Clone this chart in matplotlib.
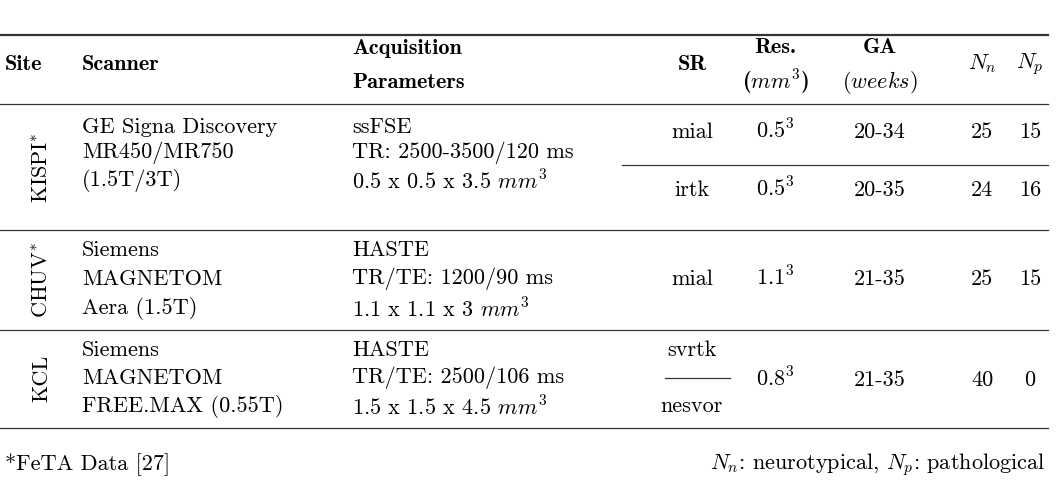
import matplotlib
matplotlib.use("Agg")
import matplotlib.pyplot as plt

plt.rcParams['mathtext.fontset'] = 'cm'
plt.rcParams['font.family'] = ['cmr10', 'DejaVu Serif']

sites = ["KISPI$^{*}$", "CHUV$^{*}$", "KCL"]
scanners = [["GE Signa Discovery", "MR450/MR750", "(1.5T/3T)"],
            ["Siemens", "MAGNETOM", "Aera (1.5T)"],
            ["Siemens", "MAGNETOM", "FREE.MAX (0.55T)"]]
acq = [["ssFSE", "TR: 2500-3500/120 ms", "0.5 x 0.5 x 3.5 $mm^3$"],
       ["HASTE", "TR/TE: 1200/90 ms", "1.1 x 1.1 x 3 $mm^3$"],
       ["HASTE", "TR/TE: 2500/106 ms", "1.5 x 1.5 x 4.5 $mm^3$"]]
sr = ["mial", "irtk", "mial", "svrtk", "nesvor"]
res = ["$0.5^3$", "$0.5^3$", "$1.1^3$", "$0.8^3$"]
ga = ["20-34", "20-35", "21-35", "21-35"]
nn = ["25", "24", "25", "40"]
npath = ["15", "16", "15", "0"]

fig = plt.figure(figsize=(10.62, 4.91), dpi=100)
ax = fig.add_axes([0, 0, 1, 1])
ax.set_xlim(0, 1062); ax.set_ylim(491, 0); ax.axis('off')
fs = 16
def t(x, y, s, ha='left', bold=False, **kw):
    if bold:
        kw['family'] = ['cmb10', 'DejaVu Serif']
    ax.text(x, y, s, ha=ha, va='center', fontsize=fs, **kw)

# rules
ax.plot([0, 1048], [35, 35], color='#333', lw=1.6)
for y in [104, 230, 330, 428]:
    ax.plot([0, 1048], [y, y], color='#333', lw=0.9)
ax.plot([622, 1048], [165, 165], color='#333', lw=0.9)
ax.plot([665, 730], [378, 378], color='#333', lw=0.9)

# header
t(5, 64, "Site", bold=True); t(82, 64, "Scanner", bold=True)
t(352, 48, "Acquisition", bold=True); t(352, 82, "Parameters", bold=True)
t(692, 64, "SR", ha='center', bold=True)
t(775, 47, "Res.", ha='center', bold=True); t(775, 82, r"($\mathit{mm}^3$)", ha='center', bold=True)
t(880, 47, "GA", ha='center', bold=True); t(880, 82, r"($\mathit{weeks}$)", ha='center')
t(982, 64, "$N_n$", ha='center'); t(1030, 64, "$N_p$", ha='center')

line_ys = [[127, 153, 181], [250, 279, 309], [350, 378, 407]]
site_y = [168, 280, 378]
for i in range(3):
    ax.text(42, site_y[i], sites[i], rotation=90, ha='center', va='center', fontsize=fs)
    for j in range(3):
        t(82, line_ys[i][j], scanners[i][j])
        t(352, line_ys[i][j], acq[i][j])

sr_y = [132, 190, 279, 350, 406]
for s, y in zip(sr, sr_y):
    t(692, y, s, ha='center')
row_y = [132, 190, 279, 380]
for k in range(4):
    t(775, row_y[k] - 2, res[k], ha='center')
    t(880, row_y[k], ga[k], ha='center')
    t(982, row_y[k], nn[k], ha='center')
    t(1030, row_y[k], npath[k], ha='center')

t(5, 465, "*FeTA Data [27]")
t(1045, 465, "$N_n$: neurotypical, $N_p$: pathological", ha='right')

fig.savefig("out.png", dpi=100)
